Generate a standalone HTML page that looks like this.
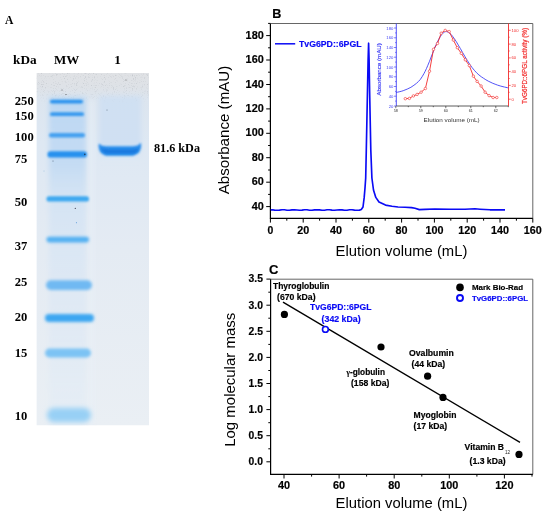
<!DOCTYPE html>
<html><head><meta charset="utf-8"><title>Figure</title>
<style>html,body{margin:0;padding:0;background:#fff}svg{display:block}</style></head><body>
<svg width="550" height="517" viewBox="0 0 550 517">
<defs>
<filter id="b1" x="-20%" y="-100%" width="140%" height="300%"><feGaussianBlur stdDeviation="0.8"/></filter>
<filter id="b2" x="-20%" y="-100%" width="140%" height="300%"><feGaussianBlur stdDeviation="1.7"/></filter>
<filter id="b3" x="-20%" y="-100%" width="140%" height="300%"><feGaussianBlur stdDeviation="2.8"/></filter>
<filter id="b5" x="-30%" y="-30%" width="160%" height="160%"><feGaussianBlur stdDeviation="4"/></filter>
<filter id="noise" x="0" y="0" width="100%" height="100%">
<feTurbulence type="fractalNoise" baseFrequency="0.9" numOctaves="2" seed="3" result="n"/>
<feColorMatrix type="matrix" values="0 0 0 0 0.35  0 0 0 0 0.38  0 0 0 0 0.42  -2.2 0 0 0 0.95"/>
<feComposite operator="in" in2="SourceGraphic"/>
</filter>
<linearGradient id="gelbg" x1="0" y1="0" x2="0" y2="1">
<stop offset="0" stop-color="#e0e2e5"/>
<stop offset="0.04" stop-color="#dee2e7"/>
<stop offset="0.075" stop-color="#dce5ef"/>
<stop offset="0.2" stop-color="#dee8f3"/>
<stop offset="0.5" stop-color="#e4ebf3"/>
<stop offset="1" stop-color="#eaeff4"/>
</linearGradient>
<linearGradient id="fadeV" x1="0" y1="0" x2="0" y2="1">
<stop offset="0" stop-color="#b9d6f3" stop-opacity="0.9"/>
<stop offset="0.2" stop-color="#bfd9f3" stop-opacity="0.85"/>
<stop offset="0.3" stop-color="#cfe1f4" stop-opacity="0.7"/>
<stop offset="0.6" stop-color="#d8e6f5" stop-opacity="0.5"/>
<stop offset="1" stop-color="#e0ebf6" stop-opacity="0.4"/>
</linearGradient>
<linearGradient id="fadeS" x1="0" y1="0" x2="0" y2="1">
<stop offset="0" stop-color="#cfe0f3" stop-opacity="0.9"/>
<stop offset="0.8" stop-color="#cfe0f3" stop-opacity="0.9"/>
<stop offset="1" stop-color="#dbe7f4" stop-opacity="0.3"/>
</linearGradient>
<linearGradient id="nfade" x1="0" y1="0" x2="0" y2="1">
<stop offset="0" stop-color="#000" stop-opacity="1"/>
<stop offset="0.55" stop-color="#000" stop-opacity="0.9"/>
<stop offset="1" stop-color="#000" stop-opacity="0"/>
</linearGradient>
<clipPath id="gelclip"><rect x="36.4" y="73" width="112.6" height="352.5"/></clipPath>
</defs>
<rect width="550" height="517" fill="#fff"/>

<g id="panelA">
<text x="5.0" y="24.2" font-family='"Liberation Serif", serif' font-size="11.6" font-weight="bold" fill="#000" text-anchor="start" >A</text>
<text x="13.0" y="63.9" font-family='"Liberation Serif", serif' font-size="13.2" font-weight="bold" fill="#000" text-anchor="start" textLength="23.6" lengthAdjust="spacingAndGlyphs" >kDa</text>
<text x="53.9" y="63.9" font-family='"Liberation Serif", serif' font-size="13.2" font-weight="bold" fill="#000" text-anchor="start" textLength="25.3" lengthAdjust="spacingAndGlyphs" >MW</text>
<text x="114.2" y="63.9" font-family='"Liberation Serif", serif' font-size="13.2" font-weight="bold" fill="#000" text-anchor="start" >1</text>
<text x="14.8" y="105.2" font-family='"Liberation Serif", serif' font-size="12.6" font-weight="bold" fill="#000" text-anchor="start" >250</text>
<text x="14.8" y="120.2" font-family='"Liberation Serif", serif' font-size="12.6" font-weight="bold" fill="#000" text-anchor="start" >150</text>
<text x="14.8" y="141.2" font-family='"Liberation Serif", serif' font-size="12.6" font-weight="bold" fill="#000" text-anchor="start" >100</text>
<text x="14.8" y="163.2" font-family='"Liberation Serif", serif' font-size="12.6" font-weight="bold" fill="#000" text-anchor="start" >75</text>
<text x="14.8" y="206.2" font-family='"Liberation Serif", serif' font-size="12.6" font-weight="bold" fill="#000" text-anchor="start" >50</text>
<text x="14.8" y="250.2" font-family='"Liberation Serif", serif' font-size="12.6" font-weight="bold" fill="#000" text-anchor="start" >37</text>
<text x="14.8" y="286.2" font-family='"Liberation Serif", serif' font-size="12.6" font-weight="bold" fill="#000" text-anchor="start" >25</text>
<text x="14.8" y="321.2" font-family='"Liberation Serif", serif' font-size="12.6" font-weight="bold" fill="#000" text-anchor="start" >20</text>
<text x="14.8" y="357.2" font-family='"Liberation Serif", serif' font-size="12.6" font-weight="bold" fill="#000" text-anchor="start" >15</text>
<text x="14.8" y="420.2" font-family='"Liberation Serif", serif' font-size="12.6" font-weight="bold" fill="#000" text-anchor="start" >10</text>
<text x="154.0" y="152.2" font-family='"Liberation Serif", serif' font-size="12.6" font-weight="bold" fill="#000" text-anchor="start" textLength="46.0" lengthAdjust="spacingAndGlyphs" >81.6 kDa</text>
<g clip-path="url(#gelclip)">
<rect x="36.4" y="73" width="112.6" height="352.5" fill="url(#gelbg)"/>
<rect x="49" y="97" width="37" height="330" fill="url(#fadeV)" filter="url(#b3)"/>
<rect x="99" y="96" width="42" height="64" fill="url(#fadeS)" filter="url(#b3)"/>
<rect x="88" y="100" width="7" height="326" fill="#eaf1f8" opacity="0.45" filter="url(#b3)"/>
<rect x="36.4" y="73" width="112.6" height="30" fill="url(#nfade)" filter="url(#noise)" opacity="0.6"/>
<rect x="50" y="99.7" width="33" height="3.8" rx="1.9" fill="#2a93ee" filter="url(#b1)"/>
<rect x="50" y="112.3" width="34" height="3.8" rx="1.9" fill="#3498ee" filter="url(#b1)"/>
<rect x="49" y="133.0" width="36" height="4.4" rx="2.2" fill="#44a0f0" filter="url(#b1)"/>
<rect x="47.5" y="151.2" width="39.5" height="6.4" rx="3.2" fill="#2891ee" filter="url(#b1)"/>
<rect x="46.5" y="196.3" width="42.5" height="5.2" rx="2.6" fill="#3ea8f0" filter="url(#b1)"/>
<rect x="46.5" y="236.8" width="42.5" height="5.6" rx="2.8" fill="#52b0f2" filter="url(#b2)"/>
<rect x="46" y="280.3" width="46" height="9.6" rx="4.8" fill="#6fb9f2" filter="url(#b2)"/>
<rect x="45" y="314.0" width="49" height="8.0" rx="4.0" fill="#3ca7f1" filter="url(#b2)"/>
<rect x="45" y="348.6" width="46" height="8.8" rx="4.4" fill="#7cc3f4" filter="url(#b2)"/>
<rect x="47" y="408.0" width="44" height="14" rx="7.0" fill="#98d0f5" filter="url(#b3)"/>
<circle cx="84.8" cy="154.4" r="0.8" fill="#1a2a40" opacity="0.8"/>
<circle cx="66" cy="94.5" r="0.6" fill="#333" opacity="0.8"/>
<circle cx="53" cy="161" r="0.5" fill="#345" opacity="0.8"/>
<circle cx="75.3" cy="208.4" r="0.6" fill="#223" opacity="0.8"/>
<circle cx="76.5" cy="222.7" r="0.6" fill="#5a9ad8" opacity="0.8"/>
<circle cx="107" cy="110" r="0.5" fill="#456" opacity="0.8"/>
<circle cx="62" cy="90" r="0.5" fill="#222" opacity="0.8"/>
<circle cx="126" cy="80" r="0.5" fill="#333" opacity="0.8"/>
<circle cx="44" cy="171" r="0.4" fill="#59c" opacity="0.8"/>
<path d="M99.4,144.6 Q98.6,152.5 106,155 L133,155 Q141,152.5 140.4,144 Q139,146.9 132,147 L107,147 Q100.8,146.9 99.4,144.6 Z" fill="#2a8eec" stroke="#2a8eec" stroke-width="1.6" stroke-linejoin="round" filter="url(#b1)"/>
<path d="M102,149 Q103,152.6 108,152.8 L131,152.8 Q137,152.6 138,149 Q134,150.2 130,150.2 L110,150.2 Q105,150.2 102,149 Z" fill="#1a78de" stroke="#1a78de" stroke-width="1.2" stroke-linejoin="round" filter="url(#b1)"/>
</g>
</g>
<g id="panelB">
<path d="M270.4,23.5 H532.8 V218.4" fill="none" stroke="#555" stroke-width="0.9"/>
<path d="M270.4,23.5 V218.4 H532.8" fill="none" stroke="#000" stroke-width="1.2"/>
<line x1="270.4" y1="218.4" x2="270.4" y2="222.6" stroke="#000" stroke-width="1"/>
<text x="270.4" y="233.7" font-family='"Liberation Sans", sans-serif' font-size="10.7" font-weight="bold" fill="#000" text-anchor="middle" textLength="5.8" lengthAdjust="spacingAndGlyphs" stroke="#000" stroke-width="0.18" >0</text>
<line x1="286.8" y1="218.4" x2="286.8" y2="220.70000000000002" stroke="#000" stroke-width="1"/>
<line x1="303.2" y1="218.4" x2="303.2" y2="222.6" stroke="#000" stroke-width="1"/>
<text x="303.2" y="233.7" font-family='"Liberation Sans", sans-serif' font-size="10.7" font-weight="bold" fill="#000" text-anchor="middle" textLength="12.0" lengthAdjust="spacingAndGlyphs" stroke="#000" stroke-width="0.18" >20</text>
<line x1="319.6" y1="218.4" x2="319.6" y2="220.70000000000002" stroke="#000" stroke-width="1"/>
<line x1="336.0" y1="218.4" x2="336.0" y2="222.6" stroke="#000" stroke-width="1"/>
<text x="336.0" y="233.7" font-family='"Liberation Sans", sans-serif' font-size="10.7" font-weight="bold" fill="#000" text-anchor="middle" textLength="12.0" lengthAdjust="spacingAndGlyphs" stroke="#000" stroke-width="0.18" >40</text>
<line x1="352.4" y1="218.4" x2="352.4" y2="220.70000000000002" stroke="#000" stroke-width="1"/>
<line x1="368.8" y1="218.4" x2="368.8" y2="222.6" stroke="#000" stroke-width="1"/>
<text x="368.8" y="233.7" font-family='"Liberation Sans", sans-serif' font-size="10.7" font-weight="bold" fill="#000" text-anchor="middle" textLength="12.0" lengthAdjust="spacingAndGlyphs" stroke="#000" stroke-width="0.18" >60</text>
<line x1="385.2" y1="218.4" x2="385.2" y2="220.70000000000002" stroke="#000" stroke-width="1"/>
<line x1="401.6" y1="218.4" x2="401.6" y2="222.6" stroke="#000" stroke-width="1"/>
<text x="401.6" y="233.7" font-family='"Liberation Sans", sans-serif' font-size="10.7" font-weight="bold" fill="#000" text-anchor="middle" textLength="12.0" lengthAdjust="spacingAndGlyphs" stroke="#000" stroke-width="0.18" >80</text>
<line x1="418.0" y1="218.4" x2="418.0" y2="220.70000000000002" stroke="#000" stroke-width="1"/>
<line x1="434.4" y1="218.4" x2="434.4" y2="222.6" stroke="#000" stroke-width="1"/>
<text x="434.4" y="233.7" font-family='"Liberation Sans", sans-serif' font-size="10.7" font-weight="bold" fill="#000" text-anchor="middle" textLength="18.0" lengthAdjust="spacingAndGlyphs" stroke="#000" stroke-width="0.18" >100</text>
<line x1="450.8" y1="218.4" x2="450.8" y2="220.70000000000002" stroke="#000" stroke-width="1"/>
<line x1="467.2" y1="218.4" x2="467.2" y2="222.6" stroke="#000" stroke-width="1"/>
<text x="467.2" y="233.7" font-family='"Liberation Sans", sans-serif' font-size="10.7" font-weight="bold" fill="#000" text-anchor="middle" textLength="18.0" lengthAdjust="spacingAndGlyphs" stroke="#000" stroke-width="0.18" >120</text>
<line x1="483.6" y1="218.4" x2="483.6" y2="220.70000000000002" stroke="#000" stroke-width="1"/>
<line x1="500.0" y1="218.4" x2="500.0" y2="222.6" stroke="#000" stroke-width="1"/>
<text x="500.0" y="233.7" font-family='"Liberation Sans", sans-serif' font-size="10.7" font-weight="bold" fill="#000" text-anchor="middle" textLength="18.0" lengthAdjust="spacingAndGlyphs" stroke="#000" stroke-width="0.18" >140</text>
<line x1="516.4" y1="218.4" x2="516.4" y2="220.70000000000002" stroke="#000" stroke-width="1"/>
<line x1="532.8" y1="218.4" x2="532.8" y2="222.6" stroke="#000" stroke-width="1"/>
<text x="532.8" y="233.7" font-family='"Liberation Sans", sans-serif' font-size="10.7" font-weight="bold" fill="#000" text-anchor="middle" textLength="18.0" lengthAdjust="spacingAndGlyphs" stroke="#000" stroke-width="0.18" >160</text>
<line x1="266.2" y1="206.6" x2="270.4" y2="206.6" stroke="#000" stroke-width="1"/>
<text x="263.8" y="209.6" font-family='"Liberation Sans", sans-serif' font-size="10.7" font-weight="bold" fill="#000" text-anchor="end" textLength="12.1" lengthAdjust="spacingAndGlyphs" stroke="#000" stroke-width="0.18" >40</text>
<line x1="268.09999999999997" y1="194.4" x2="270.4" y2="194.4" stroke="#000" stroke-width="1"/>
<line x1="266.2" y1="182.2" x2="270.4" y2="182.2" stroke="#000" stroke-width="1"/>
<text x="263.8" y="185.2" font-family='"Liberation Sans", sans-serif' font-size="10.7" font-weight="bold" fill="#000" text-anchor="end" textLength="12.1" lengthAdjust="spacingAndGlyphs" stroke="#000" stroke-width="0.18" >60</text>
<line x1="268.09999999999997" y1="170.0" x2="270.4" y2="170.0" stroke="#000" stroke-width="1"/>
<line x1="266.2" y1="157.7" x2="270.4" y2="157.7" stroke="#000" stroke-width="1"/>
<text x="263.8" y="160.7" font-family='"Liberation Sans", sans-serif' font-size="10.7" font-weight="bold" fill="#000" text-anchor="end" textLength="12.1" lengthAdjust="spacingAndGlyphs" stroke="#000" stroke-width="0.18" >80</text>
<line x1="268.09999999999997" y1="145.5" x2="270.4" y2="145.5" stroke="#000" stroke-width="1"/>
<line x1="266.2" y1="133.3" x2="270.4" y2="133.3" stroke="#000" stroke-width="1"/>
<text x="263.8" y="136.3" font-family='"Liberation Sans", sans-serif' font-size="10.7" font-weight="bold" fill="#000" text-anchor="end" textLength="18.2" lengthAdjust="spacingAndGlyphs" stroke="#000" stroke-width="0.18" >100</text>
<line x1="268.09999999999997" y1="121.1" x2="270.4" y2="121.1" stroke="#000" stroke-width="1"/>
<line x1="266.2" y1="108.9" x2="270.4" y2="108.9" stroke="#000" stroke-width="1"/>
<text x="263.8" y="111.9" font-family='"Liberation Sans", sans-serif' font-size="10.7" font-weight="bold" fill="#000" text-anchor="end" textLength="18.2" lengthAdjust="spacingAndGlyphs" stroke="#000" stroke-width="0.18" >120</text>
<line x1="268.09999999999997" y1="96.7" x2="270.4" y2="96.7" stroke="#000" stroke-width="1"/>
<line x1="266.2" y1="84.5" x2="270.4" y2="84.5" stroke="#000" stroke-width="1"/>
<text x="263.8" y="87.5" font-family='"Liberation Sans", sans-serif' font-size="10.7" font-weight="bold" fill="#000" text-anchor="end" textLength="18.2" lengthAdjust="spacingAndGlyphs" stroke="#000" stroke-width="0.18" >140</text>
<line x1="268.09999999999997" y1="72.2" x2="270.4" y2="72.2" stroke="#000" stroke-width="1"/>
<line x1="266.2" y1="60.0" x2="270.4" y2="60.0" stroke="#000" stroke-width="1"/>
<text x="263.8" y="63.0" font-family='"Liberation Sans", sans-serif' font-size="10.7" font-weight="bold" fill="#000" text-anchor="end" textLength="18.2" lengthAdjust="spacingAndGlyphs" stroke="#000" stroke-width="0.18" >160</text>
<line x1="268.09999999999997" y1="47.8" x2="270.4" y2="47.8" stroke="#000" stroke-width="1"/>
<line x1="266.2" y1="35.6" x2="270.4" y2="35.6" stroke="#000" stroke-width="1"/>
<text x="263.8" y="38.6" font-family='"Liberation Sans", sans-serif' font-size="10.7" font-weight="bold" fill="#000" text-anchor="end" textLength="18.2" lengthAdjust="spacingAndGlyphs" stroke="#000" stroke-width="0.18" >180</text>
<line x1="268.09999999999997" y1="23.4" x2="270.4" y2="23.4" stroke="#000" stroke-width="1"/>
<text x="272.2" y="18.4" font-family='"Liberation Sans", sans-serif' font-size="12.6" font-weight="bold" fill="#000" text-anchor="start" stroke="#000" stroke-width="0.18" >B</text>
<text x="335.6" y="255.8" font-family='"Liberation Sans", sans-serif' font-size="14.7" font-weight="normal" fill="#000" text-anchor="start" textLength="131.8" lengthAdjust="spacingAndGlyphs" >Elution volume (mL)</text>
<text transform="translate(229.4,130) rotate(-90)" font-family='"Liberation Sans", sans-serif' font-size="14.7" text-anchor="middle" fill="#000" textLength="128.6" lengthAdjust="spacingAndGlyphs">Absorbance (mAU)</text>
<line x1="275" y1="43.8" x2="295.2" y2="43.8" stroke="#0a0af5" stroke-width="1.5"/>
<text x="299.0" y="46.8" font-family='"Liberation Sans", sans-serif' font-size="8.7" font-weight="bold" fill="#0a0af5" text-anchor="start" textLength="62.5" lengthAdjust="spacingAndGlyphs" stroke="#0a0af5" stroke-width="0.18" >TvG6PD::6PGL</text>
<path d="M270.8,210.0 L272.0,209.7 L274.5,210.1 L277.0,210.3 L279.5,210.1 L282.0,209.7 L284.5,209.8 L287.0,210.2 L289.5,210.3 L292.0,209.9 L294.5,209.7 L297.0,210.0 L299.5,210.3 L302.0,210.1 L304.5,209.7 L307.0,209.7 L309.5,210.2 L312.0,210.3 L314.5,209.9 L317.0,209.7 L319.5,209.9 L322.0,210.3 L324.5,210.2 L327.0,209.8 L329.5,209.7 L332.0,210.1 L334.5,210.3 L337.0,210.0 L339.5,209.7 L342.0,209.9 L344.5,210.3 L347.0,210.2 L349.5,209.8 L352.0,209.7 L354.5,210.1 L357.0,210.3 L359.5,210.1 L361.3,209.5 L363.0,207.0 L364.2,197.4 L365.0,188.0 L365.7,178.0 L366.3,150.0 L366.9,120.0 L367.5,90.0 L368.1,60.0 L368.6,43.2 L369.1,60.0 L369.6,90.0 L370.2,120.0 L370.8,150.0 L371.9,178.0 L373.5,190.0 L375.8,197.4 L379.0,202.0 L385.5,205.1 L392.0,206.3 L398.0,207.0 L405.0,207.3 L411.6,207.6 L415.0,208.3 L419.3,209.6 L425.0,209.4 L435.0,209.0 L450.0,209.2 L465.0,209.3 L475.0,208.8 L480.0,209.2 L490.0,209.8 L505.0,209.8" fill="none" stroke="#0a0af5" stroke-width="1.65" stroke-linejoin="round"/>
<path d="M396.3,23.5 V106" stroke="#4040f5" stroke-width="0.9" fill="none"/>
<path d="M396.3,106 H508.5" stroke="#333" stroke-width="0.8" fill="none"/>
<path d="M508.5,23.5 V106" stroke="#f22a2a" stroke-width="0.9" fill="none"/>
<line x1="394.1" y1="106.0" x2="396.3" y2="106.0" stroke="#4040f5" stroke-width="0.7"/>
<text x="393.3" y="107.5" font-family='"Liberation Sans", sans-serif' font-size="4.2" font-weight="normal" fill="#4040f5" text-anchor="end" >20</text>
<line x1="395.1" y1="101.1" x2="396.3" y2="101.1" stroke="#4040f5" stroke-width="0.7"/>
<line x1="394.1" y1="96.2" x2="396.3" y2="96.2" stroke="#4040f5" stroke-width="0.7"/>
<text x="393.3" y="97.8" font-family='"Liberation Sans", sans-serif' font-size="4.2" font-weight="normal" fill="#4040f5" text-anchor="end" >40</text>
<line x1="395.1" y1="91.4" x2="396.3" y2="91.4" stroke="#4040f5" stroke-width="0.7"/>
<line x1="394.1" y1="86.5" x2="396.3" y2="86.5" stroke="#4040f5" stroke-width="0.7"/>
<text x="393.3" y="88.0" font-family='"Liberation Sans", sans-serif' font-size="4.2" font-weight="normal" fill="#4040f5" text-anchor="end" >60</text>
<line x1="395.1" y1="81.6" x2="396.3" y2="81.6" stroke="#4040f5" stroke-width="0.7"/>
<line x1="394.1" y1="76.8" x2="396.3" y2="76.8" stroke="#4040f5" stroke-width="0.7"/>
<text x="393.3" y="78.2" font-family='"Liberation Sans", sans-serif' font-size="4.2" font-weight="normal" fill="#4040f5" text-anchor="end" >80</text>
<line x1="395.1" y1="71.9" x2="396.3" y2="71.9" stroke="#4040f5" stroke-width="0.7"/>
<line x1="394.1" y1="67.0" x2="396.3" y2="67.0" stroke="#4040f5" stroke-width="0.7"/>
<text x="393.3" y="68.5" font-family='"Liberation Sans", sans-serif' font-size="4.2" font-weight="normal" fill="#4040f5" text-anchor="end" >100</text>
<line x1="395.1" y1="62.1" x2="396.3" y2="62.1" stroke="#4040f5" stroke-width="0.7"/>
<line x1="394.1" y1="57.2" x2="396.3" y2="57.2" stroke="#4040f5" stroke-width="0.7"/>
<text x="393.3" y="58.8" font-family='"Liberation Sans", sans-serif' font-size="4.2" font-weight="normal" fill="#4040f5" text-anchor="end" >120</text>
<line x1="395.1" y1="52.4" x2="396.3" y2="52.4" stroke="#4040f5" stroke-width="0.7"/>
<line x1="394.1" y1="47.5" x2="396.3" y2="47.5" stroke="#4040f5" stroke-width="0.7"/>
<text x="393.3" y="49.0" font-family='"Liberation Sans", sans-serif' font-size="4.2" font-weight="normal" fill="#4040f5" text-anchor="end" >140</text>
<line x1="395.1" y1="42.6" x2="396.3" y2="42.6" stroke="#4040f5" stroke-width="0.7"/>
<line x1="394.1" y1="37.8" x2="396.3" y2="37.8" stroke="#4040f5" stroke-width="0.7"/>
<text x="393.3" y="39.2" font-family='"Liberation Sans", sans-serif' font-size="4.2" font-weight="normal" fill="#4040f5" text-anchor="end" >160</text>
<line x1="395.1" y1="32.9" x2="396.3" y2="32.9" stroke="#4040f5" stroke-width="0.7"/>
<line x1="394.1" y1="28.0" x2="396.3" y2="28.0" stroke="#4040f5" stroke-width="0.7"/>
<text x="393.3" y="29.5" font-family='"Liberation Sans", sans-serif' font-size="4.2" font-weight="normal" fill="#4040f5" text-anchor="end" >180</text>
<line x1="508.5" y1="99.2" x2="510.7" y2="99.2" stroke="#f22a2a" stroke-width="0.7"/>
<text x="511.5" y="100.7" font-family='"Liberation Sans", sans-serif' font-size="4.2" font-weight="normal" fill="#f22a2a" text-anchor="start" >0</text>
<line x1="508.5" y1="92.3" x2="509.7" y2="92.3" stroke="#f22a2a" stroke-width="0.7"/>
<line x1="508.5" y1="85.4" x2="510.7" y2="85.4" stroke="#f22a2a" stroke-width="0.7"/>
<text x="511.5" y="86.9" font-family='"Liberation Sans", sans-serif' font-size="4.2" font-weight="normal" fill="#f22a2a" text-anchor="start" >20</text>
<line x1="508.5" y1="78.5" x2="509.7" y2="78.5" stroke="#f22a2a" stroke-width="0.7"/>
<line x1="508.5" y1="71.6" x2="510.7" y2="71.6" stroke="#f22a2a" stroke-width="0.7"/>
<text x="511.5" y="73.1" font-family='"Liberation Sans", sans-serif' font-size="4.2" font-weight="normal" fill="#f22a2a" text-anchor="start" >40</text>
<line x1="508.5" y1="64.8" x2="509.7" y2="64.8" stroke="#f22a2a" stroke-width="0.7"/>
<line x1="508.5" y1="57.9" x2="510.7" y2="57.9" stroke="#f22a2a" stroke-width="0.7"/>
<text x="511.5" y="59.4" font-family='"Liberation Sans", sans-serif' font-size="4.2" font-weight="normal" fill="#f22a2a" text-anchor="start" >60</text>
<line x1="508.5" y1="51.0" x2="509.7" y2="51.0" stroke="#f22a2a" stroke-width="0.7"/>
<line x1="508.5" y1="44.1" x2="510.7" y2="44.1" stroke="#f22a2a" stroke-width="0.7"/>
<text x="511.5" y="45.6" font-family='"Liberation Sans", sans-serif' font-size="4.2" font-weight="normal" fill="#f22a2a" text-anchor="start" >80</text>
<line x1="508.5" y1="37.2" x2="509.7" y2="37.2" stroke="#f22a2a" stroke-width="0.7"/>
<line x1="508.5" y1="30.3" x2="510.7" y2="30.3" stroke="#f22a2a" stroke-width="0.7"/>
<text x="511.5" y="31.8" font-family='"Liberation Sans", sans-serif' font-size="4.2" font-weight="normal" fill="#f22a2a" text-anchor="start" >100</text>
<line x1="395.8" y1="106" x2="395.8" y2="108.2" stroke="#333" stroke-width="0.7"/>
<text x="395.8" y="112.3" font-family='"Liberation Sans", sans-serif' font-size="3.8" font-weight="normal" fill="#333" text-anchor="middle" >58</text>
<line x1="408.3" y1="106" x2="408.3" y2="107.2" stroke="#333" stroke-width="0.7"/>
<line x1="420.8" y1="106" x2="420.8" y2="108.2" stroke="#333" stroke-width="0.7"/>
<text x="420.8" y="112.3" font-family='"Liberation Sans", sans-serif' font-size="3.8" font-weight="normal" fill="#333" text-anchor="middle" >59</text>
<line x1="433.3" y1="106" x2="433.3" y2="107.2" stroke="#333" stroke-width="0.7"/>
<line x1="445.8" y1="106" x2="445.8" y2="108.2" stroke="#333" stroke-width="0.7"/>
<text x="445.8" y="112.3" font-family='"Liberation Sans", sans-serif' font-size="3.8" font-weight="normal" fill="#333" text-anchor="middle" >60</text>
<line x1="458.3" y1="106" x2="458.3" y2="107.2" stroke="#333" stroke-width="0.7"/>
<line x1="470.8" y1="106" x2="470.8" y2="108.2" stroke="#333" stroke-width="0.7"/>
<text x="470.8" y="112.3" font-family='"Liberation Sans", sans-serif' font-size="3.8" font-weight="normal" fill="#333" text-anchor="middle" >61</text>
<line x1="483.3" y1="106" x2="483.3" y2="107.2" stroke="#333" stroke-width="0.7"/>
<line x1="495.8" y1="106" x2="495.8" y2="108.2" stroke="#333" stroke-width="0.7"/>
<text x="495.8" y="112.3" font-family='"Liberation Sans", sans-serif' font-size="3.8" font-weight="normal" fill="#333" text-anchor="middle" >62</text>
<line x1="508.3" y1="106" x2="508.3" y2="107.2" stroke="#333" stroke-width="0.7"/>
<text x="451.6" y="121.8" font-family='"Liberation Sans", sans-serif' font-size="5.2" font-weight="normal" fill="#333" text-anchor="middle" textLength="56.0" lengthAdjust="spacingAndGlyphs" >Elution volume (mL)</text>
<text transform="translate(381.2,69.4) rotate(-90)" font-family='"Liberation Sans", sans-serif' font-size="6.1" text-anchor="middle" fill="#4040f5" stroke="#4040f5" stroke-width="0.15" textLength="52.5" lengthAdjust="spacingAndGlyphs">Absorbance (mAU)</text>
<text transform="translate(526.6,66) rotate(-90)" font-family='"Liberation Sans", sans-serif' font-size="6.4" text-anchor="middle" fill="#f22a2a" stroke="#f22a2a" stroke-width="0.2" textLength="76" lengthAdjust="spacingAndGlyphs">TvG6PD::6PGL activity (%)</text>
<path d="M396.1,92.5 C397.3,92.2 400.7,91.6 403.2,90.7 C405.7,89.8 408.7,88.5 410.9,87.3 C413.1,86.0 414.9,84.5 416.5,83.3 C418.0,82.0 418.9,81.1 420.2,79.6 C421.4,78.0 422.9,75.5 423.9,73.7 C424.9,71.9 425.4,70.8 426.4,68.7 C427.3,66.7 428.4,63.9 429.5,61.3 C430.5,58.7 431.5,55.9 432.6,53.3 C433.6,50.7 434.6,48.2 435.6,45.9 C436.7,43.5 437.7,41.3 438.7,39.4 C439.8,37.5 440.7,35.7 441.8,34.4 C443.0,33.1 444.3,31.9 445.5,31.6 C446.8,31.4 448.1,32.1 449.2,32.9 C450.4,33.6 451.5,34.8 452.6,36.3 C453.8,37.8 455.1,39.8 456.4,41.8 C457.6,43.9 458.9,46.2 460.4,48.6 C461.8,51.1 463.5,54.1 465.0,56.7 C466.6,59.3 468.1,61.8 469.6,64.1 C471.2,66.4 472.7,68.5 474.3,70.3 C475.8,72.1 477.4,73.6 478.9,74.9 C480.5,76.3 482.0,77.3 483.6,78.3 C485.1,79.3 486.6,80.3 488.2,81.1 C489.7,81.9 491.3,82.6 492.8,83.3 C494.4,83.9 495.8,84.5 497.5,85.1 C499.2,85.7 501.2,86.2 503.0,86.7 C504.8,87.1 507.4,87.7 508.3,87.9" fill="none" stroke="#4040f5" stroke-width="0.9"/>
<path d="M405.3,98.7 L409.4,98.4 L413.4,95.9 L417.1,94.4 L421.1,92.2 L425.4,88.5 L429.5,71.2 L433.5,49.3 L437.5,43.4 L441.2,33.2 L445.2,30.4 L449.2,31.6 L453.3,40.0 L457.3,47.7 L461.3,53.3 L465.3,59.8 L469.3,65.6 L473.4,76.2 L477.1,81.4 L481.1,86.0 L485.1,92.2 L489.1,95.6 L493.1,97.5 L496.8,97.5" fill="none" stroke="#f22a2a" stroke-width="0.9" stroke-linejoin="round"/>
<circle cx="405.3" cy="98.7" r="1.25" fill="#fff" stroke="#f22a2a" stroke-width="0.6"/>
<circle cx="409.4" cy="98.4" r="1.25" fill="#fff" stroke="#f22a2a" stroke-width="0.6"/>
<circle cx="413.4" cy="95.9" r="1.25" fill="#fff" stroke="#f22a2a" stroke-width="0.6"/>
<circle cx="417.1" cy="94.4" r="1.25" fill="#fff" stroke="#f22a2a" stroke-width="0.6"/>
<circle cx="421.1" cy="92.2" r="1.25" fill="#fff" stroke="#f22a2a" stroke-width="0.6"/>
<circle cx="425.4" cy="88.5" r="1.25" fill="#fff" stroke="#f22a2a" stroke-width="0.6"/>
<circle cx="429.5" cy="71.2" r="1.25" fill="#fff" stroke="#f22a2a" stroke-width="0.6"/>
<circle cx="433.5" cy="49.3" r="1.25" fill="#fff" stroke="#f22a2a" stroke-width="0.6"/>
<circle cx="437.5" cy="43.4" r="1.25" fill="#fff" stroke="#f22a2a" stroke-width="0.6"/>
<circle cx="441.2" cy="33.2" r="1.25" fill="#fff" stroke="#f22a2a" stroke-width="0.6"/>
<circle cx="445.2" cy="30.4" r="1.25" fill="#fff" stroke="#f22a2a" stroke-width="0.6"/>
<circle cx="449.2" cy="31.6" r="1.25" fill="#fff" stroke="#f22a2a" stroke-width="0.6"/>
<circle cx="453.3" cy="40.0" r="1.25" fill="#fff" stroke="#f22a2a" stroke-width="0.6"/>
<circle cx="457.3" cy="47.7" r="1.25" fill="#fff" stroke="#f22a2a" stroke-width="0.6"/>
<circle cx="461.3" cy="53.3" r="1.25" fill="#fff" stroke="#f22a2a" stroke-width="0.6"/>
<circle cx="465.3" cy="59.8" r="1.25" fill="#fff" stroke="#f22a2a" stroke-width="0.6"/>
<circle cx="469.3" cy="65.6" r="1.25" fill="#fff" stroke="#f22a2a" stroke-width="0.6"/>
<circle cx="473.4" cy="76.2" r="1.25" fill="#fff" stroke="#f22a2a" stroke-width="0.6"/>
<circle cx="477.1" cy="81.4" r="1.25" fill="#fff" stroke="#f22a2a" stroke-width="0.6"/>
<circle cx="481.1" cy="86.0" r="1.25" fill="#fff" stroke="#f22a2a" stroke-width="0.6"/>
<circle cx="485.1" cy="92.2" r="1.25" fill="#fff" stroke="#f22a2a" stroke-width="0.6"/>
<circle cx="489.1" cy="95.6" r="1.25" fill="#fff" stroke="#f22a2a" stroke-width="0.6"/>
<circle cx="493.1" cy="97.5" r="1.25" fill="#fff" stroke="#f22a2a" stroke-width="0.6"/>
<circle cx="496.8" cy="97.5" r="1.25" fill="#fff" stroke="#f22a2a" stroke-width="0.6"/>
</g>
<g id="panelC">
<path d="M270.6,279.2 H532.8 V474.3" fill="none" stroke="#555" stroke-width="0.9"/>
<path d="M270.6,279.2 V474.3 H532.8" fill="none" stroke="#000" stroke-width="1.2"/>
<line x1="284.0" y1="474.3" x2="284.0" y2="478.5" stroke="#000" stroke-width="1"/>
<text x="284.0" y="488.6" font-family='"Liberation Sans", sans-serif' font-size="10.7" font-weight="bold" fill="#000" text-anchor="middle" textLength="12.1" lengthAdjust="spacingAndGlyphs" stroke="#000" stroke-width="0.18" >40</text>
<line x1="311.6" y1="474.3" x2="311.6" y2="476.6" stroke="#000" stroke-width="1"/>
<line x1="339.1" y1="474.3" x2="339.1" y2="478.5" stroke="#000" stroke-width="1"/>
<text x="339.1" y="488.6" font-family='"Liberation Sans", sans-serif' font-size="10.7" font-weight="bold" fill="#000" text-anchor="middle" textLength="12.1" lengthAdjust="spacingAndGlyphs" stroke="#000" stroke-width="0.18" >60</text>
<line x1="366.6" y1="474.3" x2="366.6" y2="476.6" stroke="#000" stroke-width="1"/>
<line x1="394.2" y1="474.3" x2="394.2" y2="478.5" stroke="#000" stroke-width="1"/>
<text x="394.2" y="488.6" font-family='"Liberation Sans", sans-serif' font-size="10.7" font-weight="bold" fill="#000" text-anchor="middle" textLength="12.1" lengthAdjust="spacingAndGlyphs" stroke="#000" stroke-width="0.18" >80</text>
<line x1="421.8" y1="474.3" x2="421.8" y2="476.6" stroke="#000" stroke-width="1"/>
<line x1="449.3" y1="474.3" x2="449.3" y2="478.5" stroke="#000" stroke-width="1"/>
<text x="449.3" y="488.6" font-family='"Liberation Sans", sans-serif' font-size="10.7" font-weight="bold" fill="#000" text-anchor="middle" textLength="18.2" lengthAdjust="spacingAndGlyphs" stroke="#000" stroke-width="0.18" >100</text>
<line x1="476.9" y1="474.3" x2="476.9" y2="476.6" stroke="#000" stroke-width="1"/>
<line x1="504.4" y1="474.3" x2="504.4" y2="478.5" stroke="#000" stroke-width="1"/>
<text x="504.4" y="488.6" font-family='"Liberation Sans", sans-serif' font-size="10.7" font-weight="bold" fill="#000" text-anchor="middle" textLength="18.2" lengthAdjust="spacingAndGlyphs" stroke="#000" stroke-width="0.18" >120</text>
<line x1="532.0" y1="474.3" x2="532.0" y2="476.6" stroke="#000" stroke-width="1"/>
<line x1="266.40000000000003" y1="461.8" x2="270.6" y2="461.8" stroke="#000" stroke-width="1"/>
<text x="262.9" y="465.1" font-family='"Liberation Sans", sans-serif' font-size="10.7" font-weight="bold" fill="#000" text-anchor="end" textLength="14.4" lengthAdjust="spacingAndGlyphs" stroke="#000" stroke-width="0.18" >0.0</text>
<line x1="268.3" y1="448.8" x2="270.6" y2="448.8" stroke="#000" stroke-width="1"/>
<line x1="266.40000000000003" y1="435.7" x2="270.6" y2="435.7" stroke="#000" stroke-width="1"/>
<text x="262.9" y="439.0" font-family='"Liberation Sans", sans-serif' font-size="10.7" font-weight="bold" fill="#000" text-anchor="end" textLength="14.4" lengthAdjust="spacingAndGlyphs" stroke="#000" stroke-width="0.18" >0.5</text>
<line x1="268.3" y1="422.7" x2="270.6" y2="422.7" stroke="#000" stroke-width="1"/>
<line x1="266.40000000000003" y1="409.6" x2="270.6" y2="409.6" stroke="#000" stroke-width="1"/>
<text x="262.9" y="412.9" font-family='"Liberation Sans", sans-serif' font-size="10.7" font-weight="bold" fill="#000" text-anchor="end" textLength="14.4" lengthAdjust="spacingAndGlyphs" stroke="#000" stroke-width="0.18" >1.0</text>
<line x1="268.3" y1="396.6" x2="270.6" y2="396.6" stroke="#000" stroke-width="1"/>
<line x1="266.40000000000003" y1="383.5" x2="270.6" y2="383.5" stroke="#000" stroke-width="1"/>
<text x="262.9" y="386.8" font-family='"Liberation Sans", sans-serif' font-size="10.7" font-weight="bold" fill="#000" text-anchor="end" textLength="14.4" lengthAdjust="spacingAndGlyphs" stroke="#000" stroke-width="0.18" >1.5</text>
<line x1="268.3" y1="370.5" x2="270.6" y2="370.5" stroke="#000" stroke-width="1"/>
<line x1="266.40000000000003" y1="357.4" x2="270.6" y2="357.4" stroke="#000" stroke-width="1"/>
<text x="262.9" y="360.7" font-family='"Liberation Sans", sans-serif' font-size="10.7" font-weight="bold" fill="#000" text-anchor="end" textLength="14.4" lengthAdjust="spacingAndGlyphs" stroke="#000" stroke-width="0.18" >2.0</text>
<line x1="268.3" y1="344.4" x2="270.6" y2="344.4" stroke="#000" stroke-width="1"/>
<line x1="266.40000000000003" y1="331.3" x2="270.6" y2="331.3" stroke="#000" stroke-width="1"/>
<text x="262.9" y="334.6" font-family='"Liberation Sans", sans-serif' font-size="10.7" font-weight="bold" fill="#000" text-anchor="end" textLength="14.4" lengthAdjust="spacingAndGlyphs" stroke="#000" stroke-width="0.18" >2.5</text>
<line x1="268.3" y1="318.2" x2="270.6" y2="318.2" stroke="#000" stroke-width="1"/>
<line x1="266.40000000000003" y1="305.2" x2="270.6" y2="305.2" stroke="#000" stroke-width="1"/>
<text x="262.9" y="308.5" font-family='"Liberation Sans", sans-serif' font-size="10.7" font-weight="bold" fill="#000" text-anchor="end" textLength="14.4" lengthAdjust="spacingAndGlyphs" stroke="#000" stroke-width="0.18" >3.0</text>
<line x1="268.3" y1="292.2" x2="270.6" y2="292.2" stroke="#000" stroke-width="1"/>
<line x1="266.40000000000003" y1="279.1" x2="270.6" y2="279.1" stroke="#000" stroke-width="1"/>
<text x="262.9" y="282.4" font-family='"Liberation Sans", sans-serif' font-size="10.7" font-weight="bold" fill="#000" text-anchor="end" textLength="14.4" lengthAdjust="spacingAndGlyphs" stroke="#000" stroke-width="0.18" >3.5</text>
<text x="269.0" y="274.1" font-family='"Liberation Sans", sans-serif' font-size="13.0" font-weight="bold" fill="#000" text-anchor="start" stroke="#000" stroke-width="0.18" >C</text>
<text x="335.6" y="507.6" font-family='"Liberation Sans", sans-serif' font-size="14.7" font-weight="normal" fill="#000" text-anchor="start" textLength="131.8" lengthAdjust="spacingAndGlyphs" >Elution volume (mL)</text>
<text transform="translate(234.6,379.8) rotate(-90)" font-family='"Liberation Sans", sans-serif' font-size="14.7" text-anchor="middle" fill="#000" textLength="134" lengthAdjust="spacingAndGlyphs">Log molecular mass</text>
<line x1="283" y1="302.2" x2="520" y2="442.4" stroke="#000" stroke-width="1.4"/>
<circle cx="284.4" cy="314.4" r="3.6" fill="#000"/>
<circle cx="381" cy="347" r="3.6" fill="#000"/>
<circle cx="427.6" cy="376.2" r="3.6" fill="#000"/>
<circle cx="443" cy="397.4" r="3.6" fill="#000"/>
<circle cx="519" cy="454.4" r="3.6" fill="#000"/>
<circle cx="325.4" cy="329.4" r="2.9" fill="#fff" stroke="#0a0af5" stroke-width="1.6"/>
<circle cx="460" cy="287.4" r="3.8" fill="#000"/>
<circle cx="460" cy="298" r="3.0" fill="#fff" stroke="#0a0af5" stroke-width="1.9"/>
<text x="472.0" y="290.0" font-family='"Liberation Sans", sans-serif' font-size="7.95" font-weight="bold" fill="#000" text-anchor="start" textLength="51.0" lengthAdjust="spacingAndGlyphs" stroke="#000" stroke-width="0.18" >Mark Bio-Rad</text>
<text x="472.0" y="300.6" font-family='"Liberation Sans", sans-serif' font-size="7.95" font-weight="bold" fill="#0a0af5" text-anchor="start" textLength="56.0" lengthAdjust="spacingAndGlyphs" stroke="#0a0af5" stroke-width="0.18" >TvG6PD::6PGL</text>
<text x="273.0" y="289.0" font-family='"Liberation Sans", sans-serif' font-size="8.5" font-weight="bold" fill="#000" text-anchor="start" textLength="56.4" lengthAdjust="spacingAndGlyphs" stroke="#000" stroke-width="0.18" >Thyroglobulin</text>
<text x="277.0" y="300.0" font-family='"Liberation Sans", sans-serif' font-size="8.5" font-weight="bold" fill="#000" text-anchor="start" textLength="38.6" lengthAdjust="spacingAndGlyphs" stroke="#000" stroke-width="0.18" >(670 kDa)</text>
<text x="310.0" y="310.0" font-family='"Liberation Sans", sans-serif' font-size="8.5" font-weight="bold" fill="#0a0af5" text-anchor="start" textLength="61.4" lengthAdjust="spacingAndGlyphs" stroke="#0a0af5" stroke-width="0.18" >TvG6PD::6PGL</text>
<text x="321.6" y="321.6" font-family='"Liberation Sans", sans-serif' font-size="8.5" font-weight="bold" fill="#0a0af5" text-anchor="start" textLength="39.0" lengthAdjust="spacingAndGlyphs" stroke="#0a0af5" stroke-width="0.18" >(342 kDa)</text>
<text x="346.6" y="375" font-family='"Liberation Sans", sans-serif' font-size="8.5" font-weight="bold" fill="#000" stroke="#000" stroke-width="0.18" textLength="38.4" lengthAdjust="spacingAndGlyphs"><tspan font-family='"Liberation Serif", serif' font-size="7.4">γ</tspan>-globulin</text>
<text x="351.0" y="386.0" font-family='"Liberation Sans", sans-serif' font-size="8.5" font-weight="bold" fill="#000" text-anchor="start" textLength="38.4" lengthAdjust="spacingAndGlyphs" stroke="#000" stroke-width="0.18" >(158 kDa)</text>
<text x="409.0" y="355.6" font-family='"Liberation Sans", sans-serif' font-size="8.5" font-weight="bold" fill="#000" text-anchor="start" textLength="44.8" lengthAdjust="spacingAndGlyphs" stroke="#000" stroke-width="0.18" >Ovalbumin</text>
<text x="411.6" y="367.4" font-family='"Liberation Sans", sans-serif' font-size="8.5" font-weight="bold" fill="#000" text-anchor="start" textLength="33.6" lengthAdjust="spacingAndGlyphs" stroke="#000" stroke-width="0.18" >(44 kDa)</text>
<text x="413.6" y="417.8" font-family='"Liberation Sans", sans-serif' font-size="8.5" font-weight="bold" fill="#000" text-anchor="start" textLength="42.8" lengthAdjust="spacingAndGlyphs" stroke="#000" stroke-width="0.18" >Myoglobin</text>
<text x="413.6" y="429.2" font-family='"Liberation Sans", sans-serif' font-size="8.5" font-weight="bold" fill="#000" text-anchor="start" textLength="33.6" lengthAdjust="spacingAndGlyphs" stroke="#000" stroke-width="0.18" >(17 kDa)</text>
<text x="464.6" y="450.0" font-family='"Liberation Sans", sans-serif' font-size="8.5" font-weight="bold" fill="#000" text-anchor="start" textLength="39.4" lengthAdjust="spacingAndGlyphs" stroke="#000" stroke-width="0.18" >Vitamin B</text>
<text x="505.0" y="453.7" font-family='"Liberation Sans", sans-serif' font-size="4.6" font-weight="normal" fill="#222" text-anchor="start" >12</text>
<text x="469.6" y="464.0" font-family='"Liberation Sans", sans-serif' font-size="8.5" font-weight="bold" fill="#000" text-anchor="start" textLength="36.0" lengthAdjust="spacingAndGlyphs" stroke="#000" stroke-width="0.18" >(1.3 kDa)</text>
</g>
</svg></body></html>
